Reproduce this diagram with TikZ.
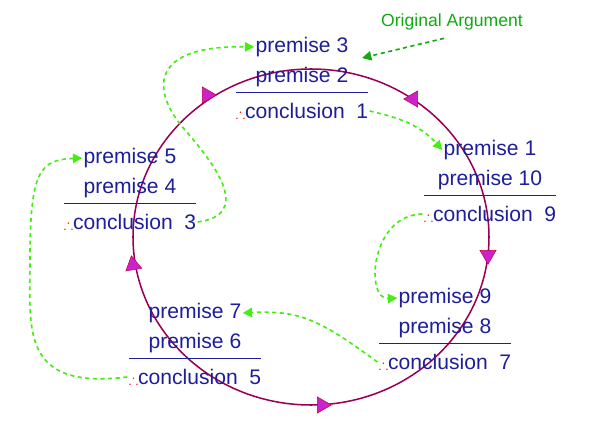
\documentclass[tikz,border=0pt]{standalone}
\usepackage{fontspec}
\setmainfont{Liberation Sans}
\usepackage{amssymb}
\usetikzlibrary{arrows.meta,shapes.geometric}
\definecolor{ink}{HTML}{1E1E9A}
\definecolor{ring}{HTML}{990055}
\definecolor{lime}{HTML}{44EE11}
\definecolor{dgreen}{HTML}{11AA11}
\definecolor{mark}{HTML}{CC22CC}
\newcommand{\block}[6]{%
  \node[txt] (#1a) at (#2,#3) {premise #4};
  \node[txt] (#1b) at (#2,#3+30) {premise #5};
  \draw[rule] (#2-66,#3+45) -- (#2+66,#3+45);
  \node[txt] (#1c) at (#2,#3+64) {\textcolor{red}{\large$\therefore$}conclusion\ \ #6};}
\begin{document}
\begin{tikzpicture}[x=0.03cm,y=-0.03cm]
  \tikzset{txt/.style={text=ink,font=\fontsize{18}{20}\selectfont,inner sep=1pt},
    rule/.style={draw=ink,line width=0.6pt},
    link/.style={draw=lime,line width=1.4pt,dash pattern=on 3.5pt off 3pt,-{Triangle[length=8pt,width=8pt]}},
    tip/.style={regular polygon,regular polygon sides=3,fill=mark,draw=purple,inner sep=0pt,minimum size=16pt}}
  \useasboundingbox (0,0) rectangle (602,428);
  \draw[ring,line width=1.3pt] (311,237) ellipse (178 and 168);
  % markers on the ring
  \foreach \x/\y/\r in {207/95/150, 413/99/-30, 488/255/180, 322/405/-90, 133/265/10}
    \node[tip,rotate=\r] at (\x,\y) {};
  % blocks
  \block{t}{302}{47}{3}{2}{1}
  \block{r}{490}{150}{1}{10}{9}
  \block{l}{130}{158}{5}{4}{3}
  \block{bl}{195}{313}{7}{6}{5}
  \block{br}{445}{298}{9}{8}{7}
  \node[text=dgreen,font=\fontsize{15}{17}\selectfont] (orig) at (452,22) {Original Argument};
  \draw[dgreen,line width=1.4pt,dash pattern=on 3.5pt off 3pt,-{Triangle[length=8pt,width=8pt]}] (orig.south) ++(-8,4) -- (362,58);
  % links between arguments
  \draw[link] (lc.east) .. controls (250,215) and (220,170) .. (185,130)
     .. controls (150,90) and (150,45) .. (ta.west);
  \draw[link] (tc.east) .. controls (400,118) and (420,125) .. (ra.west);
  \draw[link] (rc.west) .. controls (370,215) and (365,300) .. (bra.west);
  \draw[link] (brc.west) .. controls (320,320) and (300,310) .. (bla.east);
  \draw[link] (blc.west) .. controls (20,390) and (30,330) .. (30,260)
     .. controls (30,170) and (40,160) .. (la.west);
\end{tikzpicture}
\end{document}
